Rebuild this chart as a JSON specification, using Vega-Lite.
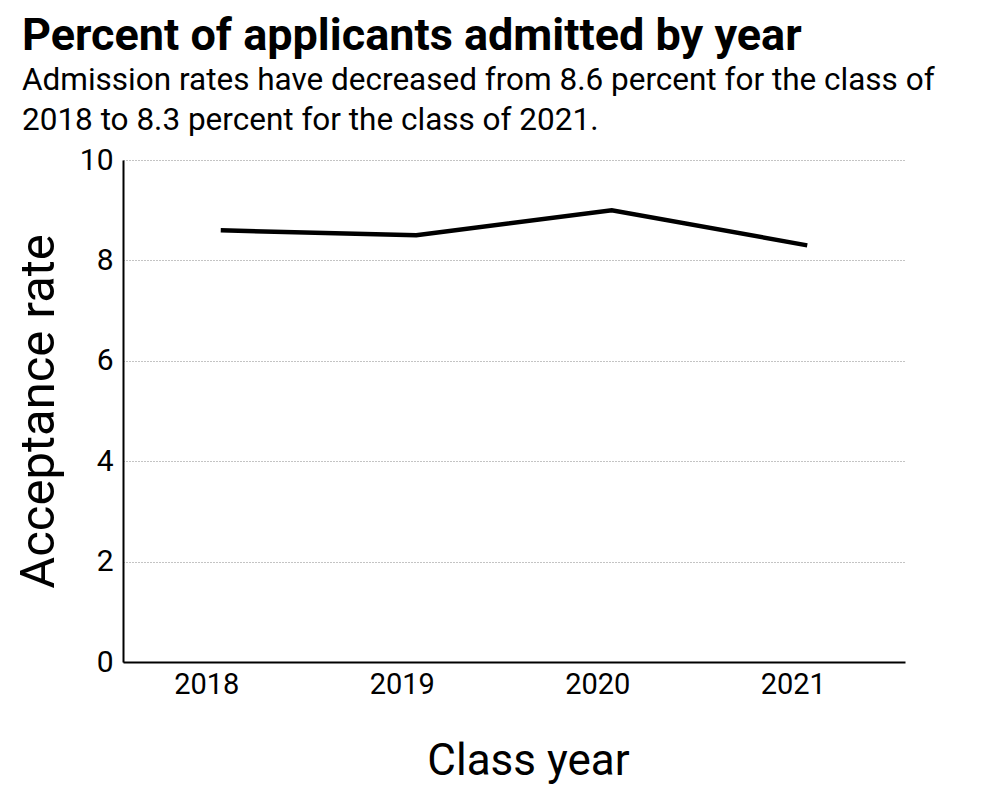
{
  "$schema": "https://vega.github.io/schema/vega-lite/v6.json",
  "autosize": "none",
  "width": 782,
  "height": 502,
  "padding": {"left": 123, "top": 160, "right": 95, "bottom": 130},
  "background": "white",
  "title": {
    "text": "Percent of applicants admitted by year",
    "subtitle": ["Admission rates have decreased from 8.6 percent for the class of", "2018 to 8.3 percent for the class of 2021."],
    "anchor": "start",
    "frame": "group",
    "dx": -101,
    "offset": 9,
    "font": "Roboto",
    "fontSize": 45,
    "fontWeight": "bold",
    "color": "black",
    "subtitleFont": "Roboto",
    "subtitleFontSize": 31.5,
    "subtitleColor": "black",
    "subtitleLineHeight": 40,
    "subtitlePadding": 6
  },
  "data": {
    "values": [
      {"year": "2018", "rate": 8.6},
      {"year": "2019", "rate": 8.5},
      {"year": "2020", "rate": 9.0},
      {"year": "2021", "rate": 8.3}
    ]
  },
  "mark": {"type": "line", "color": "black", "strokeWidth": 4.5},
  "encoding": {
    "x": {
      "field": "year",
      "type": "ordinal",
      "scale": {"type": "band", "paddingInner": 0, "paddingOuter": 0},
      "axis": {
        "title": "Class year",
        "titleFont": "Roboto",
        "titleFontSize": 44,
        "titleFontWeight": "normal",
        "titleColor": "black",
        "titlePadding": 40,
        "titleX": 405,
        "labelFont": "Roboto",
        "labelFontSize": 29,
        "labelColor": "black",
        "labelAngle": 0,
        "labelOffset": -14,
        "labelPadding": 8,
        "ticks": false,
        "domainColor": "black",
        "domainWidth": 2,
        "grid": false
      }
    },
    "y": {
      "field": "rate",
      "type": "quantitative",
      "scale": {"domain": [0, 10]},
      "axis": {
        "title": "Acceptance rate",
        "titleFont": "Roboto",
        "titleFontSize": 49,
        "titleFontWeight": "normal",
        "titleColor": "black",
        "titlePadding": 16,
        "values": [0, 2, 4, 6, 8, 10],
        "labelFont": "Roboto",
        "labelFontSize": 30,
        "labelColor": "black",
        "labelPadding": 10,
        "ticks": false,
        "domainColor": "black",
        "domainWidth": 2,
        "grid": true,
        "gridColor": "#888888",
        "gridDash": [1, 2],
        "gridWidth": 1
      }
    }
  },
  "config": {"view": {"stroke": null}}
}
